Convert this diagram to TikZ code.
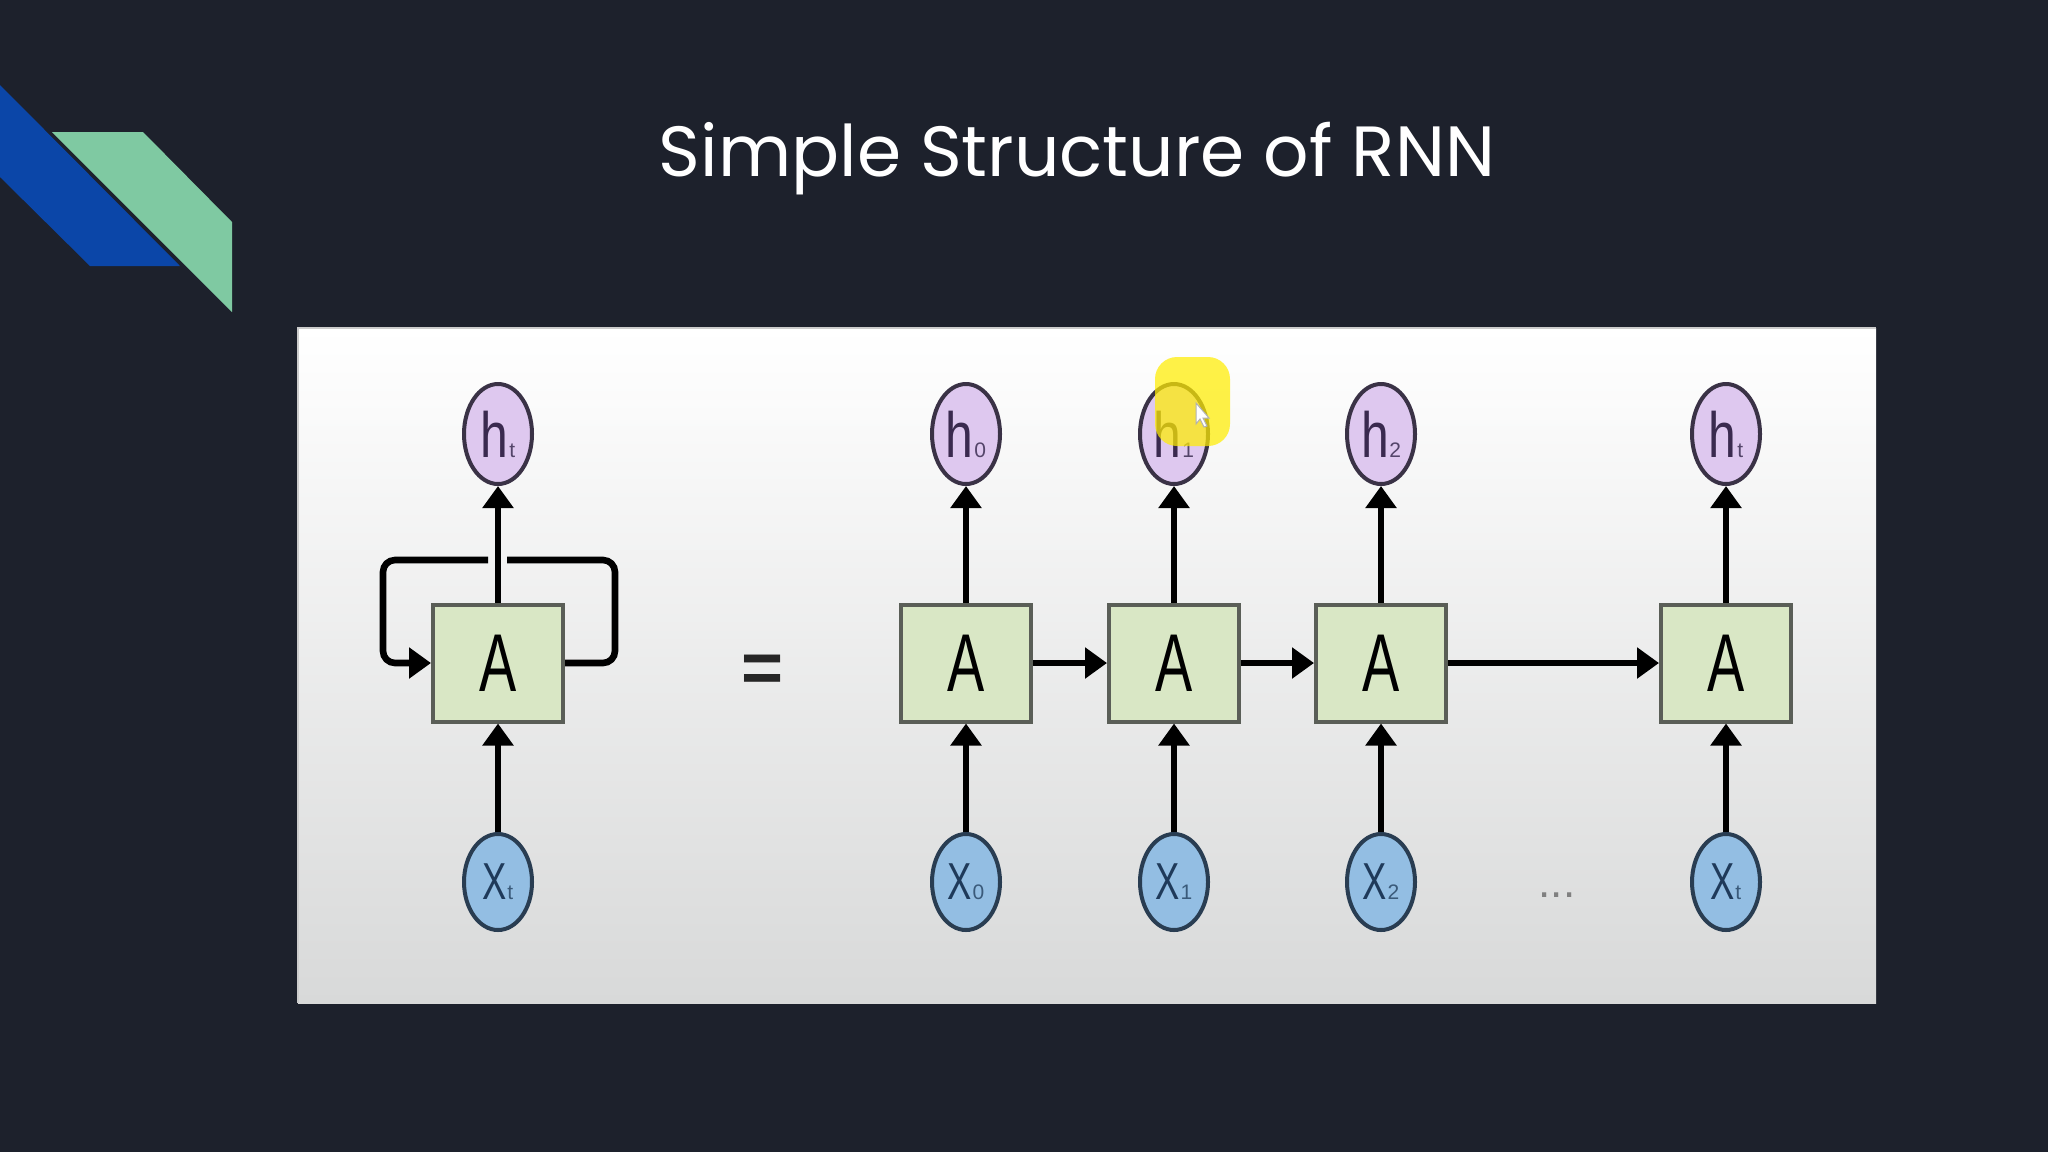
\documentclass[tikz,border=0pt]{standalone}
\usepackage{fontspec}
\setmainfont{Liberation Sans}
\newfontfamily\titlefont{Poppins}
\usetikzlibrary{arrows.meta,shapes.geometric}
\definecolor{bg}{HTML}{1D212C}
\definecolor{decoblue}{HTML}{0B46A8}
\definecolor{decogreen}{HTML}{7FC9A2}
\definecolor{boxfill}{HTML}{D9E7C5}
\definecolor{boxborder}{HTML}{5A5E57}
\definecolor{hfill}{HTML}{DEC8EF}
\definecolor{hborder}{HTML}{3A3246}
\definecolor{htext}{HTML}{3A2A4F}
\definecolor{hsub}{HTML}{54456A}
\definecolor{xfill}{HTML}{93BEE3}
\definecolor{xborder}{HTML}{293D52}
\definecolor{xtext}{HTML}{1F3A5A}
\definecolor{xsub}{HTML}{3A5A7A}
\definecolor{panelbottom}{HTML}{D8D9D9}
\newcommand\hlab[1]{\scalebox{0.78}[1]{\fontsize{32}{32}\selectfont\color{htext}h}\kern0.3pt{\fontsize{10.5}{10.5}\selectfont\color{hsub}#1}}
\newcommand\xlab[1]{\scalebox{0.7}[1]{\fontsize{26}{26}\selectfont\color{xtext}X}\kern0.2pt{\fontsize{10.5}{10.5}\selectfont\color{xsub}#1}}
\newcommand\alab{\scalebox{0.68}[1]{\fontsize{41}{41}\selectfont A}}
\tikzset{
  cell/.style={draw=boxborder, line width=2pt, fill=boxfill, minimum width=65pt, minimum height=58.5pt, inner sep=0pt},
  hnode/.style={ellipse, draw=hborder, line width=2pt, fill=hfill, minimum width=34pt, minimum height=50pt, inner sep=0pt},
  xnode/.style={ellipse, draw=xborder, line width=2pt, fill=xfill, minimum width=34pt, minimum height=48pt, inner sep=0pt},
  link/.style={line width=3.3pt, draw=black},
  arr/.style={link, -{Triangle[length=11pt,width=15pt]}},
}
\begin{document}
\begin{tikzpicture}[x=0.5pt,y=-0.5pt]
\useasboundingbox (0,0) rectangle (2048,1152);
\fill[bg] (0,0) rectangle (2048,1152);
% decoration
\fill[decoblue] (0,85) -- (180,266) -- (90,266) -- (0,177) -- cycle;
\fill[decogreen] (52,132) -- (143,132) -- (232,222) -- (232,312) -- cycle;
% title
\node[anchor=base, text=white, inner sep=0pt] (title) at (1077,176)
  {\resizebox{418pt}{!}{\titlefont Simple Structure of RNN}};
% panel
\shade[top color=white, middle color=white!97!gray, bottom color=panelbottom] (298,328) rectangle (1876,1003);
\draw[gray!40, line width=0.6pt] (298,1003) -- (298,328) -- (1876,328);
% left folded diagram
\node[cell] (L) at (498,663) {\alab};
\node[hnode] (hL) at (498,434) {\hlab{t}};
\node[xnode] (xL) at (498,882) {\xlab{t}};
\coordinate (lr) at (615,560);
\coordinate (gr) at (507,560);
\coordinate (gl) at (488,560);
\coordinate (ll) at (383,663);
\draw[link, rounded corners=6pt] (L.east) -| (lr) -- (gr);
\draw[arr, rounded corners=6pt] (gl) -| (ll) -- (L.west);
\draw[arr] (L.north) -- (hL.south);
\draw[arr] (xL.north) -- (L.south);
% equals
\node[text=black!85, inner sep=0pt] (eq) at (763,674) {\fontsize{36}{36}\selectfont\bfseries =};
% unrolled chain
\node[cell] (A0) at (966,663) {\alab};
\node[cell] (A1) at (1174,663) {\alab};
\node[cell] (A2) at (1381,663) {\alab};
\node[cell] (At) at (1726,663) {\alab};
\node[hnode] (h0) at (966,434) {\hlab{0}};
\node[hnode] (h1) at (1174,434) {\hlab{1}};
\node[hnode] (h2) at (1381,434) {\hlab{2}};
\node[hnode] (ht) at (1726,434) {\hlab{t}};
\node[xnode] (x0) at (966,882) {\xlab{0}};
\node[xnode] (x1) at (1174,882) {\xlab{1}};
\node[xnode] (x2) at (1381,882) {\xlab{2}};
\node[xnode] (xt) at (1726,882) {\xlab{t}};
\foreach \i in {0,1,2,t}{
  \draw[arr] (A\i.north) -- (h\i.south);
  \draw[arr] (x\i.north) -- (A\i.south);
}
\draw[arr] (A0.east) -- (A1.west);
\draw[arr] (A1.east) -- (A2.west);
\draw[arr] (A2.east) -- (At.west);
\node[text=gray, inner sep=0pt] (dots) at (1557,895) {\fontsize{22}{22}\selectfont ...};
% highlight and cursor over h1
\fill[yellow!95!orange, opacity=0.72, rounded corners=11pt] (1155,357) rectangle (1230,446);
\filldraw[fill=white, draw=gray!60, line width=0.5pt] (1196,403) -- (1196,424) -- (1200,419) -- (1204,427) -- (1207,426) -- (1203,418) -- (1209,418) -- cycle;
\end{tikzpicture}
\end{document}
